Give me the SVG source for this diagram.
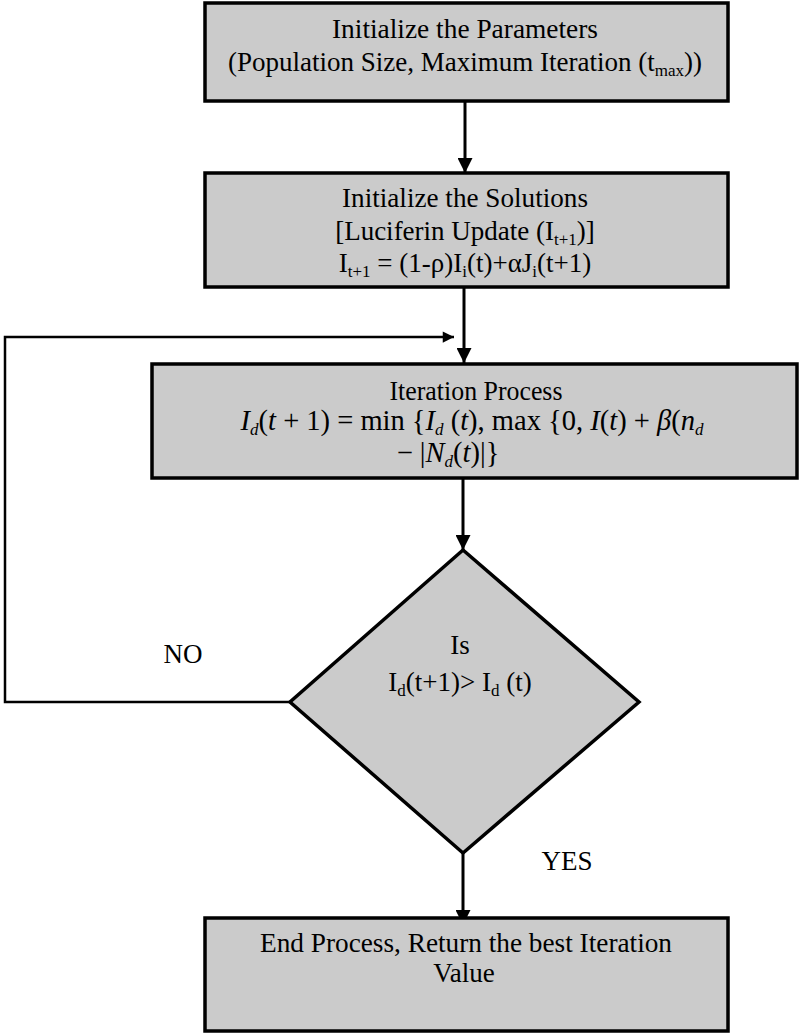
<svg xmlns="http://www.w3.org/2000/svg" width="802" height="1036" viewBox="0 0 802 1036">
<defs>
<style>
.box{fill:#cbcbcb;stroke:#000;stroke-width:3.5}
.t{font-family:"Liberation Serif","Times New Roman",serif;font-size:27px;fill:#000;text-anchor:middle}
.m{font-family:"Liberation Serif","Times New Roman",serif;font-size:28.5px;fill:#000;text-anchor:middle}
.i{font-style:italic}
.s{font-size:17px}
.ln{fill:none;stroke:#000;stroke-width:3}
.fb{fill:none;stroke:#000;stroke-width:2.5}
</style>
<marker id="ah" viewBox="0 0 10 10" refX="10" refY="5" markerWidth="5" markerHeight="5" markerUnits="strokeWidth" orient="auto">
<path d="M0,0 L10,5 L0,10 Z" fill="#000"/>
</marker>
<marker id="ah2" viewBox="0 0 10 10" refX="10" refY="5" markerWidth="5.5" markerHeight="4.5" markerUnits="strokeWidth" orient="auto">
<path d="M0,0 L10,5 L0,10 Z" fill="#000"/>
</marker>
</defs>
<rect width="802" height="1036" fill="#fff"/>
<g id="connectors">
<line class="ln" x1="465" y1="101" x2="465" y2="173" marker-end="url(#ah)"/>
<line class="ln" x1="464" y1="287" x2="464" y2="363" marker-end="url(#ah)"/>
<polyline class="fb" points="290,702 5,702 5,337 454,337" marker-end="url(#ah2)"/>
<line class="ln" x1="463" y1="479" x2="463" y2="550" marker-end="url(#ah)"/>
<line class="ln" x1="463" y1="853" x2="463" y2="925" marker-end="url(#ah)"/>
<text class="t" x="183" y="663">NO</text>
<text class="t" x="567" y="870">YES</text>
</g>
<g id="n1">
<rect class="box" x="205" y="3" width="523" height="98"/>
<text class="t" x="465" y="38" textLength="266" lengthAdjust="spacingAndGlyphs">Initialize the Parameters</text>
<text class="t" x="465" y="71">(Population Size, Maximum Iteration (t<tspan class="s" dy="5">max</tspan><tspan dy="-5">))</tspan></text>
</g>
<g id="n2">
<rect class="box" x="205" y="173" width="523" height="114"/>
<text class="t" x="465" y="207" textLength="246" lengthAdjust="spacingAndGlyphs">Initialize the Solutions</text>
<text class="t" x="465" y="240">[Luciferin Update (I<tspan class="s" dy="5">t+1</tspan><tspan dy="-5">)]</tspan></text>
<text class="t" x="465" y="272">I<tspan class="s" dy="5">t+1</tspan><tspan dy="-5"> = (1-ρ)I</tspan><tspan class="s" dy="5">i</tspan><tspan dy="-5">(t)+αJ</tspan><tspan class="s" dy="5">i</tspan><tspan dy="-5">(t+1)</tspan></text>
</g>
<g id="n3">
<rect class="box" x="152" y="364" width="645" height="114"/>
<text class="t" x="476" y="400" textLength="173" lengthAdjust="spacingAndGlyphs">Iteration Process</text>
<text class="m" x="472" y="430"><tspan class="i">I</tspan><tspan class="s i" dy="5">d</tspan><tspan dy="-5">(</tspan><tspan class="i">t</tspan> + 1) = min {<tspan class="i">I</tspan><tspan class="s i" dy="5">d</tspan><tspan dy="-5"> (</tspan><tspan class="i">t</tspan>), max {0, <tspan class="i">I</tspan>(<tspan class="i">t</tspan>) + <tspan class="i">β</tspan>(<tspan class="i">n</tspan><tspan class="s i" dy="5">d</tspan></text>
<text class="m" x="448" y="462"><tspan dy="0">− |</tspan><tspan class="i">N</tspan><tspan class="s i" dy="5">d</tspan><tspan dy="-5">(</tspan><tspan class="i">t</tspan>)|}</text>
</g>
<g id="n4">
<polygon class="box" points="463,550 639,702 463,853 290,702"/>
<text class="t" x="460" y="654">Is</text>
<text class="t" x="460" y="691">I<tspan class="s" dy="5">d</tspan><tspan dy="-5">(t+1)&gt; I</tspan><tspan class="s" dy="5">d</tspan><tspan dy="-5"> (t)</tspan></text>
</g>
<g id="n5">
<rect class="box" x="205" y="918" width="523" height="113"/>
<text class="t" x="466" y="952" textLength="412" lengthAdjust="spacingAndGlyphs">End Process, Return the best Iteration</text>
<text class="t" x="464" y="982">Value</text>
</g>
</svg>
